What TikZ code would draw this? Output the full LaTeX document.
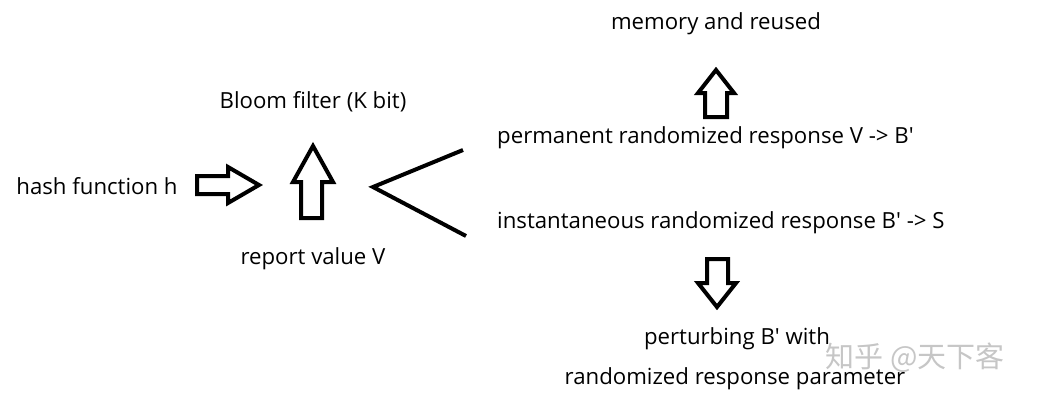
\documentclass[tikz,border=0pt]{standalone}
\usepackage{fontspec}
\setmainfont{Open Sans}
\newfontfamily\cjk{Noto Sans CJK SC}
\newcommand{\sq}{\textquotesingle}
\begin{document}
\begin{tikzpicture}[x=1pt,y=-1pt,
  lbl/.style={font=\fontsize{22.2}{26}\selectfont, inner sep=0pt},
  blk/.style={draw=black, line width=4pt, fill=white, line join=miter}]
\useasboundingbox (0,0) rectangle (1039,402);
\node[lbl] (mem) at (716,24) {memory and reused};
\node[lbl] (bf) at (313,102) {Bloom filter (K bit)};
\node[lbl] (hf) at (97,186) {hash function h};
\node[lbl] (rv) at (313,259) {report value V};
\node[lbl, anchor=west] (prr) at (497,138) {permanent randomized response V -> B\sq};
\node[lbl, anchor=west] (irr) at (497,223) {instantaneous randomized response B\sq{} -> S};
\node[lbl] (pb) at (737,339) {perturbing B\sq{} with};
\node[lbl] (rrp) at (735,379) {randomized response parameter};
\node[inner sep=0pt, text=gray!45, font=\cjk\fontsize{29}{32}\selectfont] (wm) at (915,358) {知乎 @天下客};
% block arrows
\draw[blk] (197,176) -- (228,176) -- (228,167) -- (259,185) -- (228,203) -- (228,194) -- (197,194) -- cycle;
\draw[blk] (301,218) -- (301,182) -- (293,182) -- (313,146) -- (333,182) -- (322,182) -- (322,218) -- cycle;
\draw[blk] (705,117) -- (705,93) -- (698,93) -- (716,70) -- (734,93) -- (727,93) -- (727,117) -- cycle;
\draw[blk] (707,259) -- (728,259) -- (728,283) -- (736,283) -- (717,307) -- (698,283) -- (707,283) -- cycle;
\coordinate (l1) at (463,150); \coordinate (l0) at (373,187); \coordinate (l2) at (466,236);
\draw[line width=4pt, line join=miter] (l1) -- (l0) -- (l2);
\end{tikzpicture}
\end{document}
